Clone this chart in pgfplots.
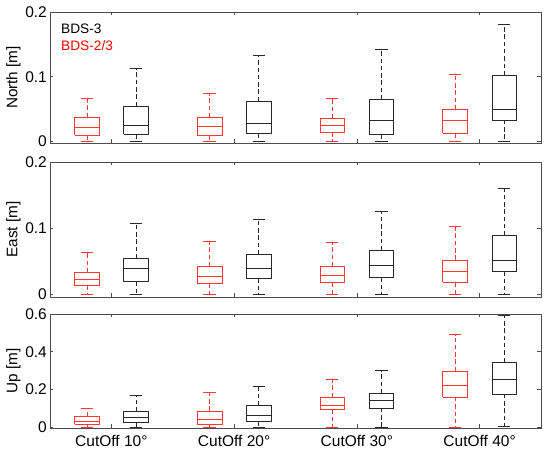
\documentclass[border=0pt]{standalone}
\usepackage{fontspec}
\setmainfont{Liberation Sans}
\usepackage{pgfplots}
\pgfplotsset{compat=1.18}
\definecolor{bred}{RGB}{255,55,55}
\definecolor{bblk}{RGB}{40,40,40}
\pgfplotsset{
  panel/.style={
    scale only axis, width=491pt, xmin=0.5, xmax=4.5,
    xtick={1,2,3,4}, tick align=inside, major tick length=3.5pt,
    axis line style={black!70, line width=0.6pt},
    every tick/.style={black!70, line width=0.5pt},
    /pgf/number format/assume math mode=true,
    tick label style={font=\fontsize{15.5}{17}\selectfont},
    yticklabel style={anchor=east, inner sep=0pt, xshift=-3pt},
    xticklabel style={anchor=base, inner sep=0pt, yshift=-19pt},
    label style={font=\fontsize{15.3}{17}\selectfont},
    ylabel style={at={(axis description cs:0,0.5)}, anchor=center, yshift=36.5pt},
  },
  R/.style={bred, line width=0.6pt},
  K/.style={bblk, line width=0.6pt},
}
% #1 style, #2 position, #3 lower whisker, #4 lower quartile, #5 median, #6 upper quartile, #7 upper whisker
\newcommand{\bx}[7]{%
  \addplot[#1, dash pattern=on 4.5pt off 2.8pt] table[x expr=\thisrow{x}+#2, row sep=\\]{x y\\ 0 #4\\ 0 #3\\};
  \addplot[#1, dash pattern=on 4.5pt off 2.8pt] table[x expr=\thisrow{x}+#2, row sep=\\]{x y\\ 0 #6\\ 0 #7\\};
  \addplot[#1] table[x expr=\thisrow{x}+#2, row sep=\\]{x y\\ -0.05 #3\\ 0.05 #3\\};
  \addplot[#1] table[x expr=\thisrow{x}+#2, row sep=\\]{x y\\ -0.05 #7\\ 0.05 #7\\};
  \addplot[#1] table[x expr=\thisrow{x}+#2, row sep=\\]{x y\\ -0.1 #4\\ 0.1 #4\\ 0.1 #6\\ -0.1 #6\\ -0.1 #4\\};
  \addplot[#1] table[x expr=\thisrow{x}+#2, row sep=\\]{x y\\ -0.1 #5\\ 0.1 #5\\};
}
\begin{document}
\begin{tikzpicture}
\path[use as bounding box] (0,0) rectangle (550pt,-454pt);
% North
\begin{axis}[panel, at={(50pt,-12pt)}, anchor=north west, height=131pt,
  ymin=-0.0025, ymax=0.2, ytick={0,0.1,0.2}, xticklabels={}, ylabel={North [m]}]
\bx{R}{0.8}{0}{0.0092}{0.021}{0.0374}{0.066}
\bx{K}{1.2}{0}{0.0113}{0.0256}{0.0544}{0.1133}
\bx{R}{1.8}{0}{0.0097}{0.0226}{0.0369}{0.0738}
\bx{K}{2.2}{0}{0.0118}{0.0287}{0.062}{0.1338}
\bx{R}{2.8}{0}{0.0144}{0.0251}{0.0354}{0.066}
\bx{K}{3.2}{0}{0.0108}{0.0328}{0.0646}{0.1426}
\bx{R}{3.8}{0}{0.0123}{0.0333}{0.0492}{0.103}
\bx{K}{4.2}{0}{0.0333}{0.0503}{0.102}{0.181}
\node[anchor=west, inner sep=0pt, font=\fontsize{13.7}{15}\selectfont, black] at ([xshift=11pt,yshift=-16.5pt]rel axis cs:0,1) {BDS-3};
\node[anchor=west, inner sep=0pt, font=\fontsize{13.7}{15}\selectfont, red] at ([xshift=11pt,yshift=-34pt]rel axis cs:0,1) {BDS-2/3};
\end{axis}
% East
\begin{axis}[panel, at={(50pt,-162pt)}, anchor=north west, height=135pt,
  ymin=-0.004, ymax=0.2, ytick={0,0.1,0.2}, xticklabels={}, ylabel={East [m]}]
\bx{R}{0.8}{0}{0.0132}{0.0233}{0.0329}{0.0628}
\bx{K}{1.2}{0}{0.0192}{0.039}{0.0542}{0.1073}
\bx{R}{1.8}{0}{0.0162}{0.0268}{0.042}{0.08}
\bx{K}{2.2}{0}{0.0243}{0.04}{0.0603}{0.1129}
\bx{R}{2.8}{0}{0.0182}{0.0294}{0.042}{0.078}
\bx{K}{3.2}{0}{0.0258}{0.044}{0.0663}{0.126}
\bx{R}{3.8}{0}{0.0182}{0.0349}{0.0522}{0.1028}
\bx{K}{4.2}{0}{0.0349}{0.0511}{0.0886}{0.1605}
\end{axis}
% Up
\begin{axis}[panel, at={(50pt,-314pt)}, anchor=north west, height=114pt,
  ymin=-0.005, ymax=0.6, ytick={0,0.2,0.4,0.6}, ylabel={Up [m]},
  xticklabels={CutOff 10°, CutOff 20°, CutOff 30°, CutOff 40°}]
\bx{R}{0.8}{0}{0.0158}{0.0317}{0.0545}{0.100}
\bx{K}{1.2}{0}{0.0229}{0.051}{0.0827}{0.171}
\bx{R}{1.8}{0}{0.014}{0.0405}{0.0862}{0.185}
\bx{K}{2.2}{0}{0.028}{0.0598}{0.114}{0.218}
\bx{R}{2.8}{0}{0.093}{0.118}{0.158}{0.253}
\bx{K}{3.2}{0}{0.102}{0.141}{0.179}{0.299}
\bx{R}{3.8}{0}{0.160}{0.22}{0.296}{0.491}
\bx{K}{4.2}{0.005}{0.176}{0.252}{0.345}{0.593}
\end{axis}
\end{tikzpicture}
\end{document}
